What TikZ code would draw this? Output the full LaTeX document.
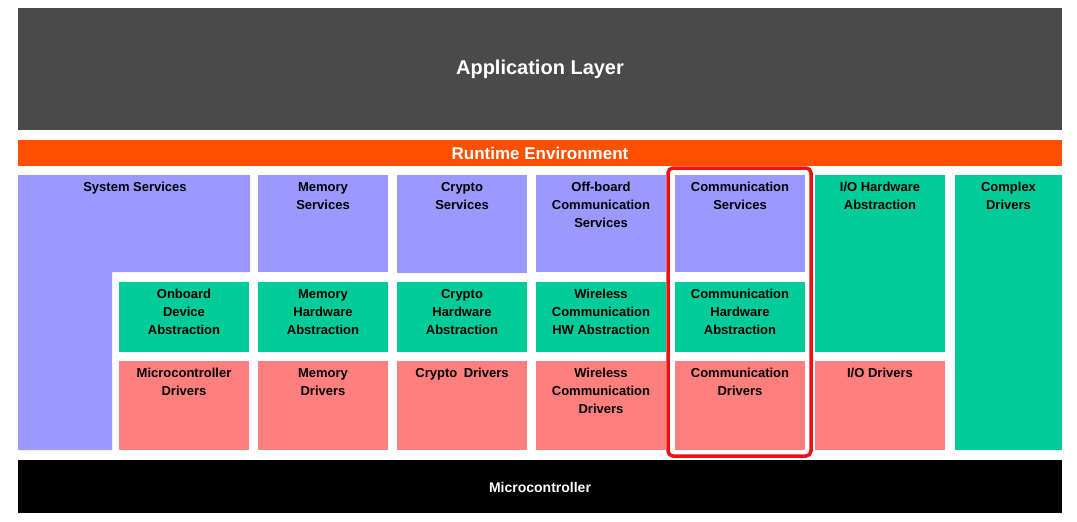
\documentclass[tikz,border=0pt]{standalone}
\usepackage{fontspec}
\setmainfont{Liberation Sans}
\definecolor{AppColor}{HTML}{4A4A4A}
\definecolor{RteColor}{HTML}{FF5000}
\definecolor{ServiceColor}{HTML}{9999FF}
\definecolor{AbstractionColor}{HTML}{00CC99}
\definecolor{DriverColor}{HTML}{FF7F7F}
\definecolor{MarkColor}{HTML}{EE1111}
\tikzstyle{lbl}=[inner sep=0pt,
                 text centered,
                 align=center,
                 anchor=north,
                 font=\fontsize{13}{18}\selectfont\bfseries]
\newcommand\blk[7]{%
  \fill[#2] (#3,-#4) rectangle (#5,-#6);
  \node (#1) [lbl] at ({(#3+#5)/2},-#4-7) {#7};}

\begin{document}
\begin{tikzpicture}[x=1pt,y=1pt]
\useasboundingbox (0,0) rectangle (1077,-522);
\fill[AppColor] (18,-8) rectangle (1062,-130);
\node (app) at (540,-69) [text=white, font=\fontsize{20}{24}\selectfont\bfseries] {Application Layer};
\fill[RteColor] (18,-140) rectangle (1062,-166);
\node (rte) at (540,-153) [text=white, font=\fontsize{17}{20}\selectfont\bfseries] {Runtime Environment};

% services
\fill[ServiceColor] (18,-175) -- (250,-175) -- (250,-272) -- (112,-272) -- (112,-450) -- (18,-450) -- cycle;
\node (sys) [lbl] at (135,-182) {System Services};
\blk{memsrv}{ServiceColor}{258}{175}{388}{272}{Memory\\Services}
\blk{crysrv}{ServiceColor}{397}{175}{527}{273}{Crypto\\Services}
\blk{offsrv}{ServiceColor}{536}{175}{666}{272}{Off-board\\Communication\\Services}
\blk{comsrv}{ServiceColor}{675}{175}{805}{272}{Communication\\Services}
\blk{iohw}{AbstractionColor}{815}{175}{945}{352}{I/O Hardware\\Abstraction}
\blk{cdd}{AbstractionColor}{955}{175}{1062}{450}{Complex\\Drivers}

% abstraction
\blk{onbhw}{AbstractionColor}{119}{282}{249}{352}{Onboard\\Device\\Abstraction}
\blk{memhw}{AbstractionColor}{258}{282}{388}{352}{Memory\\Hardware\\Abstraction}
\blk{cryhw}{AbstractionColor}{397}{282}{527}{352}{Crypto\\Hardware\\Abstraction}
\blk{wirhw}{AbstractionColor}{536}{282}{666}{352}{Wireless\\Communication\\HW Abstraction}
\blk{comhw}{AbstractionColor}{675}{282}{805}{352}{Communication\\Hardware\\Abstraction}

% drivers
\blk{mcudrv}{DriverColor}{119}{361}{249}{450}{Microcontroller\\Drivers}
\blk{memdrv}{DriverColor}{258}{361}{388}{450}{Memory\\Drivers}
\blk{crydrv}{DriverColor}{397}{361}{527}{450}{Crypto\enspace Drivers}
\blk{wirdrv}{DriverColor}{536}{361}{666}{450}{Wireless\\Communication\\Drivers}
\blk{comdrv}{DriverColor}{675}{361}{805}{450}{Communication\\Drivers}
\blk{iodrv}{DriverColor}{815}{361}{945}{450}{I/O Drivers}

\fill[black] (18,-460) rectangle (1062,-513);
\node (mcu) at (540,-487) [text=white, font=\fontsize{14}{17}\selectfont\bfseries] {Microcontroller};

\draw[MarkColor, line width=3.5pt, rounded corners=5pt] (668,-168) rectangle (811,-456);
\end{tikzpicture}
\end{document}
